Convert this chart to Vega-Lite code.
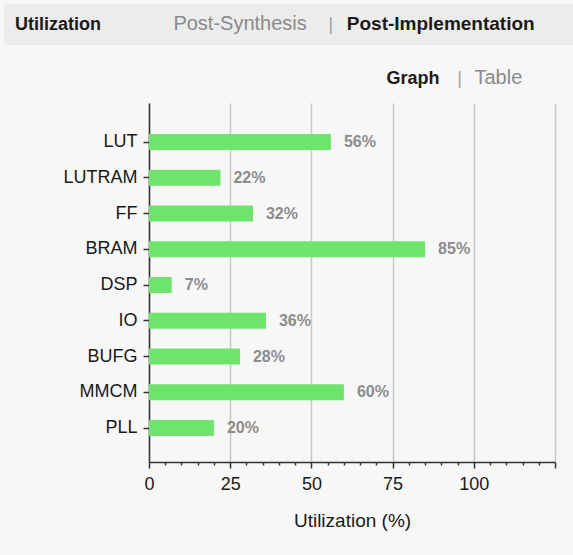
{
  "$schema": "https://vega.github.io/schema/vega-lite/v6.json",
  "background": "#f7f7f7",
  "padding": {"left": 4, "top": 4, "right": 0, "bottom": 30},
  "spacing": 0,
  "config": {"font": "Liberation Sans", "view": {"stroke": null}},
  "datasets": {
    "header": [
      {"part": "Utilization", "slot": "section", "state": "heading"},
      {"part": "Post-Synthesis", "slot": "tabs", "state": "inactive"},
      {"part": "|", "slot": "tabs", "state": "separator"},
      {"part": "Post-Implementation", "slot": "tabs", "state": "active"}
    ],
    "toggle": [
      {"part": "Graph", "slot": "view", "state": "active"},
      {"part": "|", "slot": "view", "state": "separator"},
      {"part": "Table", "slot": "view", "state": "inactive"}
    ],
    "usage": [
      {"resource": "LUT", "util": 56},
      {"resource": "LUTRAM", "util": 22},
      {"resource": "FF", "util": 32},
      {"resource": "BRAM", "util": 85},
      {"resource": "DSP", "util": 7},
      {"resource": "IO", "util": 36},
      {"resource": "BUFG", "util": 28},
      {"resource": "MMCM", "util": 60},
      {"resource": "PLL", "util": 20}
    ]
  },
  "vconcat": [
    {
      "width": 569,
      "height": 41,
      "view": {"fill": "#ececec"},
      "data": {"name": "header"},
      "encoding": {
        "x": {
          "field": "slot",
          "type": "nominal",
          "axis": null,
          "scale": {"type": "point", "domain": ["section", "tabs"], "padding": 0.3706, "align": 0}
        },
        "text": {"field": "part"}
      },
      "layer": [
        {
          "transform": [{"filter": "datum.state == 'heading'"}],
          "mark": {"type": "text", "align": "left", "baseline": "alphabetic", "dx": 11, "dy": 5, "fontSize": 18, "fontWeight": "bold", "color": "#1a1a1a"}
        },
        {
          "transform": [{"filter": "datum.state == 'inactive'"}],
          "mark": {"type": "text", "align": "right", "baseline": "alphabetic", "dx": -24, "dy": 5, "fontSize": 20, "color": "#8a8a8a"}
        },
        {
          "transform": [{"filter": "datum.state == 'separator'"}],
          "mark": {"type": "text", "align": "center", "baseline": "alphabetic", "dy": 5, "fontSize": 18, "color": "#a0a0a0"}
        },
        {
          "transform": [{"filter": "datum.state == 'active'"}],
          "mark": {"type": "text", "align": "left", "baseline": "alphabetic", "dx": 16, "dy": 5, "fontSize": 19, "fontWeight": "bold", "color": "#1a1a1a"}
        }
      ]
    },
    {
      "width": 569,
      "height": 58,
      "data": {"name": "toggle"},
      "encoding": {
        "x": {
          "field": "slot",
          "type": "nominal",
          "axis": null,
          "scale": {"type": "point", "domain": ["view"], "align": 0.8005}
        },
        "text": {"field": "part"}
      },
      "layer": [
        {
          "transform": [{"filter": "datum.state == 'active'"}],
          "mark": {"type": "text", "align": "right", "baseline": "alphabetic", "dx": -20, "dy": 10, "fontSize": 18, "fontWeight": "bold", "color": "#1a1a1a"}
        },
        {
          "transform": [{"filter": "datum.state == 'separator'"}],
          "mark": {"type": "text", "align": "center", "baseline": "alphabetic", "dy": 10, "fontSize": 18, "color": "#a0a0a0"}
        },
        {
          "transform": [{"filter": "datum.state == 'inactive'"}],
          "mark": {"type": "text", "align": "left", "baseline": "alphabetic", "dx": 15, "dy": 10, "fontSize": 20, "color": "#8a8a8a"}
        }
      ]
    },
    {
      "width": 569,
      "height": 359,
      "data": {"name": "usage"},
      "encoding": {
        "y": {
          "field": "resource",
          "type": "nominal",
          "sort": null,
          "scale": {"paddingInner": 0.552, "paddingOuter": 0.797, "align": 0.544},
          "axis": {
            "title": null,
            "grid": false,
            "offset": -145,
            "labelFontSize": 18,
            "labelColor": "#1a1a1a",
            "labelPadding": 6,
            "tickSize": 6,
            "tickWidth": 1.5,
            "tickColor": "#333333",
            "domainColor": "#333333",
            "domainWidth": 1.5
          }
        },
        "x": {
          "field": "util",
          "type": "quantitative",
          "scale": {"domain": [0, 125], "nice": false, "range": [145, 551]},
          "axis": {
            "title": "Utilization (%)",
            "values": [0, 5, 10, 15, 20, 25, 30, 35, 40, 45, 50, 55, 60, 65, 70, 75, 80, 85, 90, 95, 100, 105, 110, 115, 120, 125],
            "labelExpr": "datum.value % 25 === 0 && datum.value < 125 ? datum.label : ''",
            "labelFontSize": 18,
            "labelColor": "#1a1a1a",
            "labelPadding": 7,
            "labelFlush": false,
            "labelOverlap": false,
            "tickSize": {"condition": {"test": "datum.value % 25 === 0", "value": 6}, "value": 3},
            "tickWidth": 1.5,
            "tickColor": "#333333",
            "domainColor": "#333333",
            "domainWidth": 1.5,
            "grid": true,
            "gridColor": "#c8c8c8",
            "gridWidth": 1.5,
            "gridOpacity": {"condition": {"test": "datum.value % 25 === 0", "value": 1}, "value": 0},
            "titleFontSize": 19,
            "titleFontWeight": "normal",
            "titleColor": "#1a1a1a",
            "titlePadding": 18
          }
        }
      },
      "layer": [
        {"mark": {"type": "bar", "color": "#6ee46c"}},
        {
          "mark": {
            "type": "text",
            "align": "left",
            "baseline": "middle",
            "dx": 13,
            "fontSize": 16,
            "fontWeight": "bold",
            "color": "#8c8c8c",
            "text": {"expr": "datum.util + '%'"}
          }
        }
      ]
    }
  ]
}
